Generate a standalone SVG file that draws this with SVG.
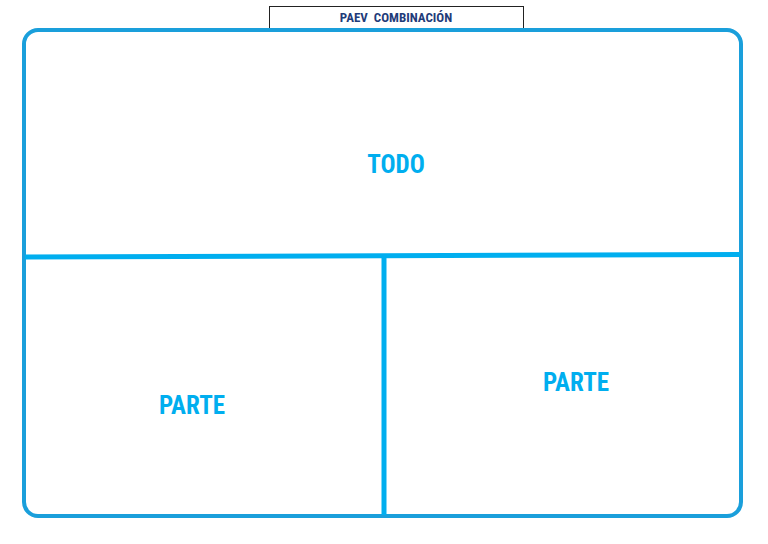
<svg xmlns="http://www.w3.org/2000/svg" width="768" height="544" viewBox="0 0 768 544">
<style>
.lbl{font-family:"Liberation Sans Narrow","Roboto Condensed","Liberation Sans",Arial,sans-serif;font-weight:bold;font-stretch:condensed;fill:#00aeef;font-size:25px;text-anchor:middle}
.title{font-family:"Liberation Sans Narrow","Roboto Condensed","Liberation Sans",Arial,sans-serif;font-weight:bold;font-stretch:condensed;fill:#1f3c7a;font-size:13px;text-anchor:middle}
.ln{stroke:#00aeef;stroke-width:5;fill:none}
</style>
<rect width="768" height="544" fill="#ffffff"/>
<g id="title">
<rect x="269.5" y="6.5" width="254" height="22" fill="#ffffff" stroke="#222" stroke-width="1"/>
<text class="title" x="396" y="22" xml:space="preserve">PAEV  COMBINACIÓN</text>
</g>
<g id="frame">
<rect x="24" y="30" width="717" height="486" rx="14" ry="14" fill="none" stroke="#1a9fdb" stroke-width="4"/>
</g>
<g id="connectors">
<line class="ln" x1="25" y1="257" x2="740" y2="254.5"/>
<line class="ln" x1="384" y1="256" x2="384" y2="515"/>
</g>
<g id="todo"><text class="lbl" x="396" y="173">TODO</text></g>
<g id="parte1"><text class="lbl" x="192" y="414">PARTE</text></g>
<g id="parte2"><text class="lbl" x="576" y="391">PARTE</text></g>
</svg>
